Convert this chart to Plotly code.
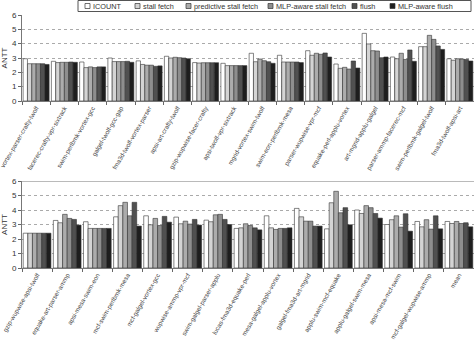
import plotly.graph_objects as go
from plotly.subplots import make_subplots

series = ["ICOUNT", "stall fetch", "predictive stall fetch", "MLP-aware stall fetch", "flush", "MLP-aware flush"]
colors = ["#ffffff", "#d4d4d4", "#acacac", "#8e8e8e", "#505050", "#1e1e1e"]

top_labels = [
    "vortex-parser-crafty-twolf", "facerec-crafty-vpr-sixtrack", "swim-perlbmk-vortex-gcc",
    "galgel-twolf-gcc-gap", "fma3d-twolf-vortex-parser", "apsi-art-crafty-twolf",
    "gzip-wupwise-facer-crafty", "apsi-twolf-vpr-sixtrack", "mgrid-vortex-swim-twolf",
    "swim-eon-perlbmk-mesa", "parser-wupwise-vpr-mcf", "equake-perl-applu-vortex",
    "art-mgrid-applu-galgel", "parser-ammp-facerec-mcf", "swim-perlbmk-galgel-twolf",
    "fma3d-twolf-apsi-art",
]
top_icount = [2.95, 2.77, 2.72, 3.0, 2.8, 3.12, 2.68, 2.63, 3.33, 3.19, 3.51, 2.58, 4.72, 3.07, 3.79, 2.95]
top_stall = [2.6, 2.68, 2.33, 2.75, 2.55, 3.0, 2.65, 2.47, 2.74, 2.72, 3.19, 2.28, 3.98, 2.95, 3.79, 2.84]
top_pred = [2.6, 2.7, 2.38, 2.75, 2.5, 3.05, 2.67, 2.47, 2.93, 2.72, 3.33, 2.35, 3.51, 3.33, 4.58, 2.95]
top_mlpstall = [2.6, 2.7, 2.33, 2.75, 2.5, 3.02, 2.67, 2.47, 2.81, 2.72, 3.26, 2.23, 3.49, 2.9, 4.3, 2.93]
top_flush = [2.6, 2.72, 2.38, 2.77, 2.42, 3.0, 2.67, 2.47, 2.74, 2.72, 3.35, 2.79, 3.02, 3.56, 3.84, 2.9]
top_mlpflush = [2.55, 2.7, 2.38, 2.7, 2.45, 2.95, 2.67, 2.47, 2.63, 2.68, 3.07, 2.3, 3.07, 2.77, 3.6, 2.79]

bot_labels = [
    "gzip-wupwise-apsi-twolf", "equake-art-parser-ammp", "apsi-mesa-swim-eon",
    "mcf-swim-perlbmk-mesa", "mcf-galgel-vortex-gcc", "wupwise-ammp-vpr-mcf",
    "swim-galgel-parser-applu", "lucas-fma3d-equake-perl", "mesa-galgel-applu-vortex",
    "galgel-fma3d-art-mgrid", "applu-swim-mcf-equake", "applu-galgel-swim-mesa",
    "apsi-mesa-mcf-swim", "mcf-galgel-wupwise-ammp", "mean",
]
bot_icount = [2.4, 3.28, 3.19, 3.53, 3.6, 3.51, 3.3, 2.73, 3.6, 4.11, 2.7, 4.0, 3.0, 3.21, 3.21]
bot_stall = [2.4, 3.12, 2.73, 4.3, 2.98, 3.05, 3.19, 2.77, 2.77, 3.53, 4.5, 3.76, 3.33, 2.84, 3.07]
bot_pred = [2.4, 3.7, 2.73, 4.53, 3.42, 3.23, 3.67, 3.05, 2.66, 3.23, 5.29, 4.3, 3.6, 3.33, 3.21]
bot_mlpstall = [2.4, 3.42, 2.73, 3.6, 2.93, 3.03, 3.7, 2.93, 2.73, 3.23, 3.81, 4.16, 2.82, 2.68, 3.07]
bot_flush = [2.4, 3.35, 2.73, 4.53, 3.56, 3.35, 3.35, 2.77, 2.73, 2.89, 4.16, 3.76, 3.74, 3.6, 3.12]
bot_mlpflush = [2.4, 2.96, 2.73, 2.89, 3.16, 2.96, 3.0, 2.63, 2.77, 2.89, 2.98, 3.44, 2.54, 2.7, 2.84]

top_vals = [top_icount, top_stall, top_pred, top_mlpstall, top_flush, top_mlpflush]
bot_vals = [bot_icount, bot_stall, bot_pred, bot_mlpstall, bot_flush, bot_mlpflush]

W, H = 474, 340
fig = make_subplots(rows=2, cols=1)

for i, name in enumerate(series):
    fig.add_trace(go.Bar(x=top_labels, y=top_vals[i], name=name, marker_color=colors[i],
                         marker_line_color="#333333", marker_line_width=0.6,
                         showlegend=False), row=1, col=1)
    fig.add_trace(go.Bar(x=bot_labels, y=bot_vals[i], name=name, marker_color=colors[i],
                         marker_line_color="#333333", marker_line_width=0.6,
                         showlegend=False), row=2, col=1)

font = "Liberation Sans, Arial, sans-serif"
top_dom = [(H - 101) / H, (H - 15) / H]
bot_dom = [(H - 268) / H, (H - 181) / H]
x_dom = [22 / W, 1]

xcommon = dict(tickangle=-60, tickfont=dict(size=6.3, color="#444444", family=font),
               ticks="outside", tickson="boundaries", ticklen=3, tickcolor="#666666",
               showline=True, linecolor="#777777", linewidth=1, automargin=False,
               showgrid=False, domain=x_dom)
ycommon = dict(range=[0, 6], dtick=1, showgrid=True, gridcolor="#aaaaaa", griddash="dot",
               gridwidth=1, showline=True, linecolor="#777777", linewidth=1,
               ticks="outside", ticklen=3, tickcolor="#666666",
               tickfont=dict(size=8, color="#333333", family=font),
               title=dict(text="ANTT", font=dict(size=8, color="#333333", family=font), standoff=4),
               automargin=False, zeroline=False)

fig.update_xaxes(**xcommon)
fig.update_yaxes(**ycommon)
fig.update_layout(yaxis=dict(domain=top_dom), yaxis2=dict(domain=bot_dom))

# solid top line on the lower panel at y = 6
fig.add_shape(type="line", xref="x2 domain", yref="y2", x0=0, x1=1, y0=6, y1=6,
              line=dict(color="#777777", width=1))

# hand-built legend (box, swatches, labels) across the top
legend_swatch_px = [85, 135, 186, 268, 352, 390]
fig.add_shape(type="rect", xref="paper", yref="paper",
              x0=78 / W, x1=471 / W, y0=(H - 11.5) / H, y1=(H - 0.5) / H,
              line=dict(color="#555555", width=1), fillcolor="white", layer="above")
for i, name in enumerate(series):
    sx = legend_swatch_px[i]
    fig.add_shape(type="rect", xref="paper", yref="paper",
                  x0=sx / W, x1=(sx + 5) / W, y0=(H - 8.5) / H, y1=(H - 3.5) / H,
                  line=dict(color="#333333", width=0.7), fillcolor=colors[i], layer="above")
    fig.add_annotation(xref="paper", yref="paper", x=(sx + 6) / W, y=(H - 6) / H,
                       text=name, showarrow=False, xanchor="left", yanchor="middle",
                       font=dict(size=7.3, color="#333333", family=font))

fig.update_layout(
    width=W, height=H,
    margin=dict(l=0, r=0, t=0, b=0),
    barmode="group", bargap=0.08, bargroupgap=0,
    plot_bgcolor="white", paper_bgcolor="white",
    font=dict(family=font, size=8, color="#333333"),
    showlegend=False,
)

fig.write_html("out.html")
